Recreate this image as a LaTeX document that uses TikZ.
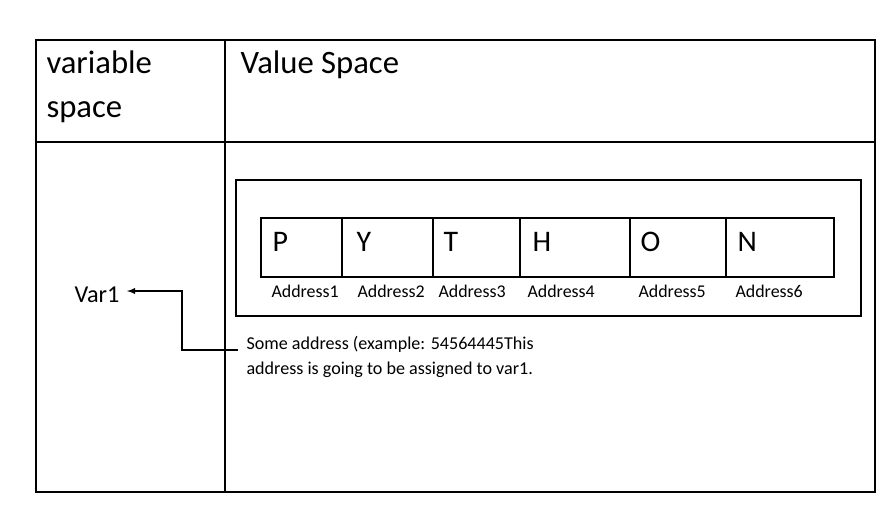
\documentclass[tikz,border=0pt]{standalone}
\usepackage{fontspec}
\setmainfont{Carlito}
\begin{document}
\begin{tikzpicture}[x=0.02cm, y=-0.02cm, line width=0.6pt,
    title/.style={font=\fontsize{18.6}{25}\selectfont, inner sep=0pt, anchor=base west, align=left},
    letter/.style={font=\fontsize{17}{20}\selectfont, inner sep=0pt, anchor=base west},
    addr/.style={font=\fontsize{10.2}{12}\selectfont, inner sep=0pt, anchor=base west},
    note/.style={font=\fontsize{10.3}{13.8}\selectfont, inner sep=0pt, anchor=north west, align=left}]
    \useasboundingbox (0,0) rectangle (888,522);

    % Table
    \draw[line width=0.8pt] (36,40) rectangle (875,492);
    \draw (225,40) -- (225,492);
    \draw (36,142) -- (875,142);

    % Headings
    \node[title] (varhead) at (46,117) {variable\\space};
    \node[title] (valhead) at (240,73) {Value Space};

    % Memory block
    \draw (236,180) rectangle (861,316);
    \foreach \i/\ch/\xa/\xb/\xl/\xd in {1/P/261/342/272/271, 2/Y/342/433/356/357, 3/T/433/520/443/438,
                                         4/H/520/630/532/527, 5/O/630/726/640/638, 6/N/726/834/737/735}
    {
        \draw (\xa,218) rectangle (\xb,277);
        \node[letter] (let\i) at (\xl,251) {\ch};
        \node[addr] (addr\i) at (\xd,297.5) {Address\i};
    }

    % Variable
    \node[font=\fontsize{13.8}{16}\selectfont, inner ysep=0pt, inner xsep=4pt, anchor=base east] (var1) at (127,302) {Var1};

    % Note and connector
    \node[note] (note) at (246,336) {Some address (example: 54564445This\\address is going to be assigned to var1.};
    \coordinate (tail) at (238,350);
    \coordinate (bend) at (182,291);
    \draw[-latex] (tail) -| (bend) -- (bend -| var1.east);
\end{tikzpicture}
\end{document}
